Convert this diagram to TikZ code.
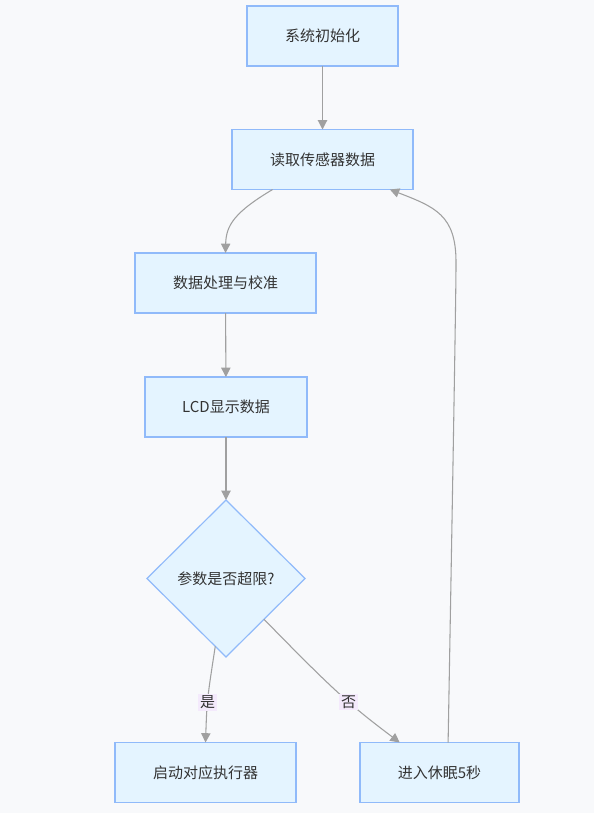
\documentclass[tikz,border=0pt]{standalone}
\usepackage{xcolor}
\usepackage{fontspec}
\newfontfamily\cjk{Noto Sans CJK SC}
\usetikzlibrary{shapes.geometric,arrows.meta}

\definecolor{boxfill}{RGB}{228,244,255}
\definecolor{boxline}{RGB}{144,186,250}
\definecolor{flowgray}{RGB}{160,160,160}
\definecolor{lblfill}{RGB}{244,234,252}
\definecolor{pagebg}{RGB}{248,249,251}

\tikzset{
  stepbox/.style={draw=boxline, fill=boxfill, line width=0.9pt, outer sep=0pt, inner sep=0pt,
    minimum height=45pt, font=\cjk\fontsize{11.25}{13}\selectfont, text=black!80},
  choice/.style={diamond, draw=boxline, fill=boxfill, line width=0.9pt, outer sep=0pt, inner sep=0pt,
    minimum width=118.5pt, minimum height=117.75pt, font=\cjk\fontsize{11.25}{13}\selectfont, text=black!80},
  flow/.style={draw=flowgray, line width=0.8pt, -{Triangle[length=7pt,width=7pt]}},
  lbl/.style={fill=lblfill, inner sep=1.5pt, font=\cjk\fontsize{11.25}{13}\selectfont, text=black!80}
}

\begin{document}
\begin{tikzpicture}[x=0.75pt,y=0.75pt,yscale=-1,xscale=1]
%Background
\fill [pagebg] (0,0) rectangle (594,813);
\useasboundingbox (0,0) rectangle (594,813);

%Shape: Rectangle
\node [stepbox, minimum width=113.25pt] (init) at (322.5,36) {系统初始化};
%Shape: Rectangle
\node [stepbox, minimum width=135.75pt] (read) at (322.5,159.5) {读取传感器数据};
%Shape: Rectangle
\node [stepbox, minimum width=135.75pt] (proc) at (225.5,283) {数据处理与校准};
%Shape: Rectangle
\node [stepbox, minimum width=121.5pt] (lcd) at (226,407) {LCD显示数据};
%Shape: Diamond
\node [choice] (check) at (226,578.5) {参数是否超限?};
%Shape: Rectangle
\node [stepbox, minimum width=135.75pt] (act) at (205.5,772.5) {启动对应执行器};
%Shape: Rectangle
\node [stepbox, minimum width=119.25pt] (sleep) at (439.5,772.5) {进入休眠5秒};

%Straight Lines
\draw [flow] (init) -- (read);
\draw [flow] (read.211.6) .. controls (235,212) and (226,225) .. (proc.north);
\draw [flow] (proc) -- (lcd);
\draw [flow] (lcd) -- (check);
\draw [flow] (check.261) .. controls (207,700) .. (act.north) node [lbl, pos=0.55] {是};
\draw [flow] (check.313.6) .. controls (335,692) and (350,705) .. (sleep.143.7) node [lbl, pos=0.58] {否};
\draw [flow] (sleep.74.4) .. controls (456,300) and (456,275) .. (456,262) .. controls (456,215) and (435,207) .. (read.336.3);

\end{tikzpicture}
\end{document}
